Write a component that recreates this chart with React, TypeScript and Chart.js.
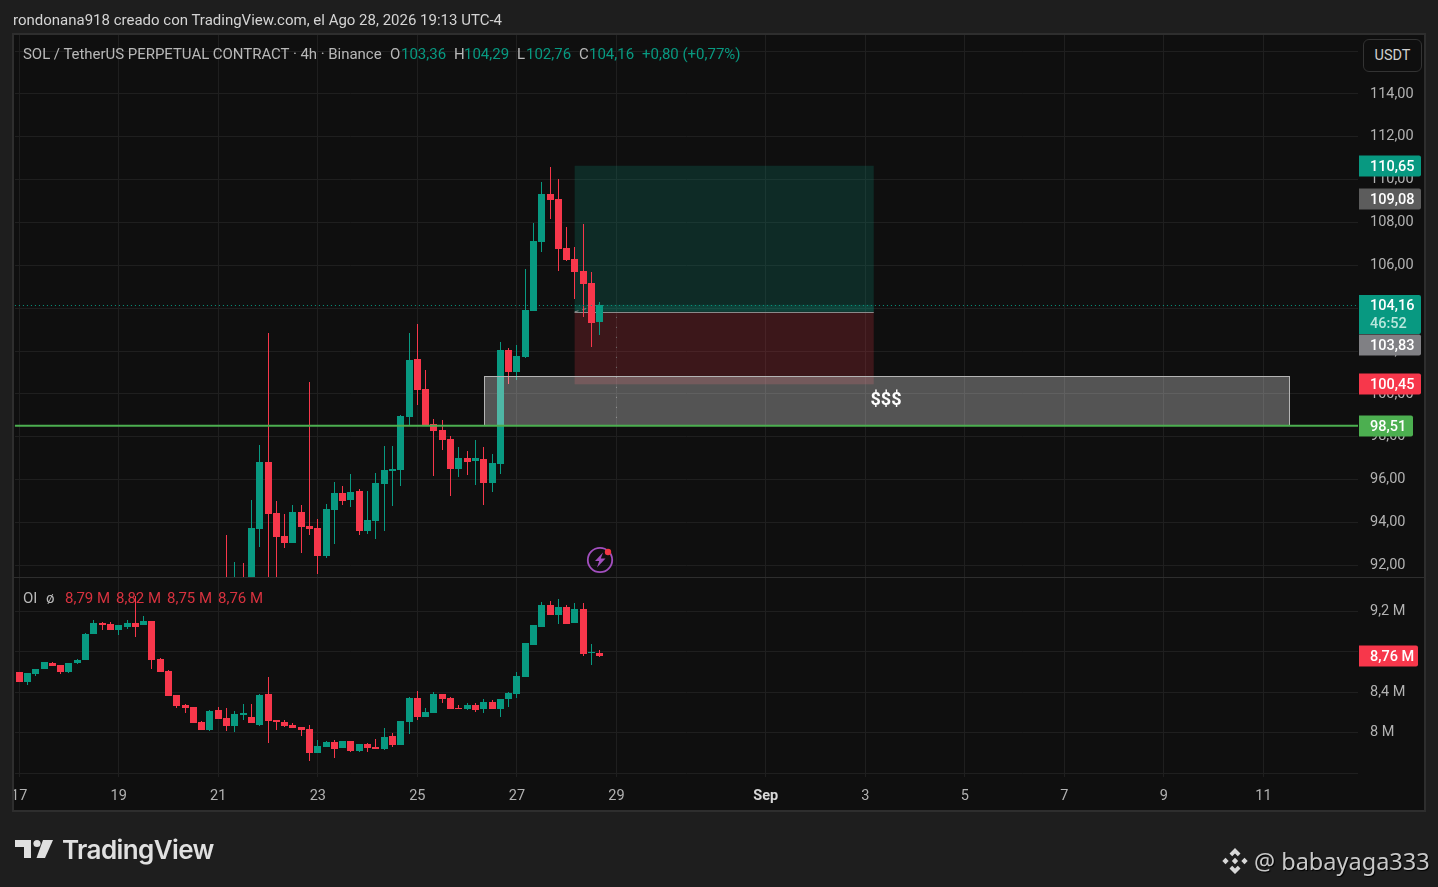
import React, { useEffect, useRef } from "react";
import { Chart, registerables } from "chart.js";

Chart.register(...registerables);

const FIRST_DAY = 17;
const BARS_PER_DAY = 6;

// Price candles, 4h, starting at candle 25 (earlier ones sit below the visible pane)
const PRICE_FIRST_INDEX = 25;
const priceOpen = [91.2, 91.0, 91.3, 91.0, 93.69, 96.82, 94.44, 93.37, 93.04, 94.49, 93.83, 93.74, 92.43, 94.58, 95.37, 95.05, 95.47, 93.6, 94.07, 95.79, 96.4, 96.45, 98.92, 101.63, 100.23, 98.59, 98.31, 97.9, 96.49, 97.0, 96.87, 96.96, 95.84, 96.73, 102.05, 101.02, 101.72, 103.87, 107.09, 109.33, 109.1, 106.81, 106.3, 105.74, 105.18, 103.36];
const priceHigh = [93.41, 92.15, 92.1, 95.05, 97.61, 102.84, 95.0, 94.39, 94.81, 94.81, 100.55, 94.16, 94.86, 95.89, 95.7, 96.26, 95.56, 95.47, 96.31, 97.57, 97.57, 99.01, 102.84, 103.26, 101.12, 98.83, 98.78, 98.03, 97.52, 97.33, 97.85, 97.52, 97.19, 102.42, 102.14, 102.28, 105.83, 107.98, 109.89, 110.59, 110.03, 107.79, 106.86, 107.93, 105.69, 104.29];
const priceLow = [90.8, 90.7, 90.9, 90.8, 92.85, 91.2, 91.2, 92.8, 93.04, 92.57, 93.41, 91.59, 92.34, 92.99, 94.81, 94.72, 93.41, 93.46, 93.23, 93.6, 94.77, 95.7, 98.55, 99.48, 98.5, 96.17, 97.38, 95.23, 96.12, 96.21, 95.75, 94.81, 95.42, 96.26, 100.46, 100.65, 101.67, 103.87, 106.62, 108.17, 105.74, 106.2, 104.43, 103.59, 102.19, 102.76];
const priceClose = [91.0, 91.2, 91.1, 93.74, 96.82, 94.39, 93.32, 93.04, 94.49, 93.78, 93.69, 92.43, 94.63, 95.37, 95.0, 95.42, 93.6, 94.11, 95.84, 96.45, 96.49, 98.97, 101.58, 100.18, 98.52, 98.27, 97.85, 96.49, 97.0, 96.82, 97.0, 95.84, 96.77, 102.05, 101.02, 101.77, 103.92, 107.14, 109.33, 109.05, 106.76, 106.25, 105.69, 105.13, 103.31, 104.16];

// Open interest candles, in millions
const oiOpen = [8.6, 8.5, 8.58, 8.63, 8.69, 8.67, 8.6, 8.69, 8.72, 8.98, 9.08, 9.07, 9.02, 9.05, 9.08, 9.06, 9.1, 8.73, 8.61, 8.37, 8.27, 8.25, 8.1, 8.03, 8.22, 8.14, 8.07, 8.17, 8.15, 8.08, 8.38, 8.12, 8.1, 8.08, 8.06, 8.04, 7.8, 7.86, 7.91, 7.85, 7.92, 7.82, 7.89, 7.86, 7.84, 7.97, 7.88, 8.1, 8.34, 8.15, 8.19, 8.38, 8.34, 8.24, 8.23, 8.27, 8.23, 8.3, 8.23, 8.33, 8.38, 8.55, 8.87, 9.05, 9.26, 9.16, 9.24, 9.08, 9.22, 8.79, 8.79];
const oiHigh = [8.6, 8.59, 8.63, 8.7, 8.7, 8.67, 8.69, 8.73, 8.99, 9.11, 9.09, 9.09, 9.06, 9.11, 9.35, 9.15, 9.1, 8.74, 8.62, 8.37, 8.28, 8.25, 8.11, 8.22, 8.25, 8.24, 8.21, 8.28, 8.28, 8.38, 8.55, 8.12, 8.12, 8.09, 8.06, 8.08, 7.93, 7.92, 7.93, 7.92, 7.92, 7.89, 7.9, 7.94, 8.05, 8.0, 8.11, 8.35, 8.41, 8.24, 8.4, 8.38, 8.35, 8.27, 8.29, 8.29, 8.33, 8.32, 8.33, 8.4, 8.6, 8.89, 9.06, 9.29, 9.3, 9.32, 9.26, 9.28, 9.28, 8.88, 8.82];
const oiLow = [8.5, 8.47, 8.56, 8.63, 8.66, 8.58, 8.59, 8.68, 8.72, 8.98, 9.02, 9.02, 8.97, 9.03, 8.95, 9.06, 8.63, 8.6, 8.36, 8.24, 8.19, 8.09, 8.03, 8.02, 8.13, 8.02, 8.01, 8.12, 8.09, 8.07, 7.9, 8.03, 8.06, 8.05, 7.97, 7.72, 7.8, 7.86, 7.75, 7.85, 7.81, 7.81, 7.81, 7.84, 7.83, 7.86, 7.88, 7.99, 8.12, 8.15, 8.19, 8.29, 8.23, 8.23, 8.22, 8.2, 8.19, 8.23, 8.15, 8.25, 8.34, 8.55, 8.87, 9.05, 9.16, 9.07, 9.07, 9.08, 8.76, 8.67, 8.75];
const oiClose = [8.5, 8.59, 8.63, 8.7, 8.66, 8.6, 8.69, 8.72, 8.98, 9.08, 9.06, 9.02, 9.06, 9.08, 9.05, 9.1, 8.72, 8.6, 8.36, 8.26, 8.24, 8.09, 8.03, 8.21, 8.13, 8.07, 8.18, 8.19, 8.09, 8.37, 8.11, 8.1, 8.07, 8.05, 8.03, 7.8, 7.87, 7.91, 7.84, 7.92, 7.82, 7.89, 7.85, 7.84, 7.96, 7.88, 8.11, 8.34, 8.15, 8.2, 8.38, 8.33, 8.23, 8.23, 8.27, 8.22, 8.3, 8.23, 8.33, 8.39, 8.56, 8.89, 9.06, 9.26, 9.16, 9.24, 9.07, 9.22, 8.78, 8.8, 8.76];

// Axes
const xTickDays = [17, 19, 21, 23, 25, 27, 29, 32, 34, 36, 38, 40, 42];
const xTickLabels = ["17", "19", "21", "23", "25", "27", "29", "Sep", "3", "5", "7", "9", "11"];
const priceTicks = [92, 94, 96, 98, 100, 102, 104, 106, 108, 110, 112, 114, 116];
const oiTicks = [7.6, 8, 8.4, 8.8, 9.2];
const oiTicksWithoutLabel = [7.6, 8.8];

// Drawn objects
const positionDays = [28.16, 34.17];
const positionLevels = [110.65, 103.83, 100.45];
const zoneDays = [26.34, 42.52];
const zoneLevels = [100.84, 98.55];
const supportLevel = 98.51;
const lastPrice = 104.16;
const lastCandleDay = 28.667;
const markerDay = 29;

// Price scale tags
const priceTagValues = [110.65, 109.08, 100.45, 98.51];
const priceTagTexts = ["110,65", "109,08", "100,45", "98,51"];

const UP = "#089981";
const DOWN = "#f7374b";
const GRID = "#1f1f1f";
const PANEL = "#0f0f0f";
const OUTER = "#1e1e1e";
const FRAME = "#2e2e2e";
const TICK_COLOR = "#b2b2b2";
const AXIS_FONT = "Roboto";

const dayOf = (i: number) => FIRST_DAY + i / BARS_PER_DAY;
const colorsOf = (o: number[], c: number[]) => o.map((v, i) => (c[i] >= v ? UP : DOWN));

const overlayPlugin = {
  id: "tvOverlay",
  beforeDraw(chart: any) {
    const { ctx, width, height } = chart;
    ctx.save();
    ctx.fillStyle = OUTER;
    ctx.fillRect(0, 0, width, height);
    ctx.fillStyle = PANEL;
    ctx.fillRect(13, 34, 1412, 777);
    ctx.restore();
  },
  afterDatasetsUpdate(chart: any) {
    // TradingView snaps candles to whole pixels
    chart.getSortedVisibleDatasetMetas().forEach((meta: any) => {
      meta.data.forEach((el: any) => {
        el.x = Math.floor(el.x) + 0.5;
        el.y = Math.round(el.y);
        el.base = Math.round(el.base);
      });
    });
  },
  beforeDatasetsDraw(chart: any) {
    const { ctx, scales } = chart;
    const x0 = scales.x.getPixelForValue(positionDays[0]);
    const x1 = scales.x.getPixelForValue(positionDays[1]);
    const [top, entry, stop] = positionLevels.map((v) => scales.y.getPixelForValue(v));
    const last = scales.y.getPixelForValue(lastPrice);
    ctx.save();
    ctx.fillStyle = "rgba(8,153,129,0.2)";
    ctx.fillRect(x0, top, x1 - x0, entry - top);
    ctx.fillStyle = "rgba(8,153,129,0.2)";
    ctx.fillRect(x0, last, x1 - x0, entry - last);
    ctx.fillStyle = "rgba(242,54,69,0.2)";
    ctx.fillRect(x0, entry, x1 - x0, stop - entry);
    ctx.fillStyle = "#8a8a8a";
    ctx.fillRect(x0, Math.round(entry), x1 - x0, 1);

    // Entry-to-last-price connector and the faint marker column
    ctx.strokeStyle = "#8a8a8a";
    ctx.lineWidth = 1;
    ctx.setLineDash([4, 4]);
    ctx.beginPath();
    ctx.moveTo(x0, entry);
    ctx.lineTo(scales.x.getPixelForValue(lastCandleDay), last);
    ctx.stroke();
    const mx = Math.round(scales.x.getPixelForValue(markerDay)) + 0.5;
    ctx.strokeStyle = "#6e6e6e";
    ctx.setLineDash([1, 9]);
    ctx.beginPath();
    ctx.moveTo(mx, entry + 5);
    ctx.lineTo(mx, scales.y.getPixelForValue(zoneLevels[1]));
    ctx.stroke();
    ctx.restore();
  },
  afterDatasetsDraw(chart: any) {
    const { ctx, scales, chartArea } = chart;
    const y = scales.y;
    ctx.save();

    // Last price line
    ctx.strokeStyle = UP;
    ctx.lineWidth = 1;
    ctx.setLineDash([1, 3]);
    const lp = Math.round(y.getPixelForValue(lastPrice)) + 0.5;
    ctx.beginPath();
    ctx.moveTo(chartArea.left, lp);
    ctx.lineTo(chartArea.right, lp);
    ctx.stroke();
    ctx.setLineDash([]);

    // Zone
    const zx0 = Math.round(scales.x.getPixelForValue(zoneDays[0])) + 0.5;
    const zx1 = Math.round(scales.x.getPixelForValue(zoneDays[1])) + 0.5;
    const zt = Math.round(y.getPixelForValue(zoneLevels[0])) + 0.5;
    const zb = Math.round(y.getPixelForValue(zoneLevels[1])) + 0.5;
    ctx.fillStyle = "rgba(255,255,255,0.29)";
    ctx.fillRect(zx0, zt, zx1 - zx0, zb - zt);
    ctx.strokeStyle = "#b4b4b4";
    ctx.strokeRect(zx0, zt, zx1 - zx0, zb - zt);
    ctx.fillStyle = "#ffffff";
    ctx.font = `bold 18px ${AXIS_FONT}`;
    ctx.textAlign = "center";
    ctx.textBaseline = "middle";
    ctx.fillText("$$$", (zx0 + zx1) / 2 - 1, (zt + zb) / 2 - 1);

    // Support line
    const sl = y.getPixelForValue(supportLevel);
    ctx.strokeStyle = "#4caf50";
    ctx.lineWidth = 2;
    ctx.beginPath();
    ctx.moveTo(chartArea.left, sl);
    ctx.lineTo(chartArea.right, sl);
    ctx.stroke();
    ctx.restore();
  },
  afterDraw(chart: any) {
    const { ctx, scales, height } = chart;
    const y = scales.y;
    const y2 = scales.y2;
    ctx.save();

    // Clip the first tick label at the panel edge and draw the frame
    ctx.fillStyle = OUTER;
    ctx.fillRect(0, 760, 13, height - 760);
    ctx.fillStyle = FRAME;
    ctx.fillRect(12, 33, 2, 779);
    ctx.fillRect(1424, 33, 2, 779);
    ctx.fillRect(12, 33, 1414, 2);
    ctx.fillRect(12, 810, 1414, 2);
    ctx.fillRect(14, 577, 1410, 1);

    const tag = (value: number, color: string, text: string, w = 62) => {
      const c = Math.round(value);
      ctx.fillStyle = color;
      ctx.beginPath();
      ctx.roundRect(1359, c - 10.5, w, 21, [0, 2, 2, 0]);
      ctx.fill();
      ctx.fillStyle = "#ffffff";
      ctx.font = `500 14.5px ${AXIS_FONT}`;
      ctx.textAlign = "left";
      ctx.textBaseline = "middle";
      ctx.fillText(text, 1370, c + 1.5);
    };
    const tagColors = [UP, "#5c5c5c", DOWN, "#4caf50"];
    priceTagValues.forEach((v, i) => {
      tag(y.getPixelForValue(v), tagColors[i], priceTagTexts[i], i === 3 ? 54 : 62);
    });

    // Last price block with its countdown, the entry tag stacked below it
    const lp = Math.round(y.getPixelForValue(lastPrice));
    ctx.fillStyle = UP;
    ctx.beginPath();
    ctx.roundRect(1359, lp - 10, 62, 39, [0, 2, 2, 0]);
    ctx.fill();
    ctx.fillStyle = "#ffffff";
    ctx.font = `500 14.5px ${AXIS_FONT}`;
    ctx.textBaseline = "middle";
    ctx.textAlign = "left";
    ctx.fillText("104,16", 1370, lp + 1.5);
    ctx.fillStyle = "#b8e6dc";
    ctx.fillText("46:52", 1370, lp + 19);
    tag(lp + 39.5, "#808084", "103,83");

    // OI last value
    tag(y2.getPixelForValue(8.76), DOWN, "8,76 M", 59);
    ctx.restore();
  },
};

const root: React.CSSProperties = {
  position: "fixed",
  left: 0,
  top: 0,
  width: 1438,
  height: 887,
  background: OUTER,
  overflow: "hidden",
  fontFamily: AXIS_FONT,
};
const abs = (left: number, top: number, extra: React.CSSProperties = {}): React.CSSProperties => ({
  position: "absolute",
  left,
  top,
  whiteSpace: "nowrap",
  pointerEvents: "none",
  ...extra,
});

export default function App() {
  const ref = useRef<HTMLCanvasElement | null>(null);

  useEffect(() => {
    const priceDays = priceOpen.map((_, i) => dayOf(i + PRICE_FIRST_INDEX));
    const oiDays = oiOpen.map((_, i) => dayOf(i));
    const priceColors = colorsOf(priceOpen, priceClose);
    const oiColors = colorsOf(oiOpen, oiClose);
    const common = { type: "bar" as const, grouped: false, borderWidth: 0, inflateAmount: 0, minBarLength: 1, clip: 0 };

    const chart = new Chart(ref.current as HTMLCanvasElement, {
      type: "bar",
      data: {
        datasets: [
          {
            ...common,
            label: "Price wick",
            yAxisID: "y",
            barThickness: 1,
            data: priceDays.map((x, i) => ({ x, y: [priceLow[i], priceHigh[i]] })),
            backgroundColor: priceColors,
          },
          {
            ...common,
            label: "Price body",
            yAxisID: "y",
            barThickness: 7,
            data: priceDays.map((x, i) => ({ x, y: [priceOpen[i], priceClose[i]] })),
            backgroundColor: priceColors,
          },
          {
            ...common,
            label: "OI wick",
            yAxisID: "y2",
            barThickness: 1,
            data: oiDays.map((x, i) => ({ x, y: [oiLow[i], oiHigh[i]] })),
            backgroundColor: oiColors,
          },
          {
            ...common,
            label: "OI body",
            yAxisID: "y2",
            barThickness: 7,
            data: oiDays.map((x, i) => ({ x, y: [oiOpen[i], oiClose[i]] })),
            backgroundColor: oiColors,
          },
        ] as any,
      },
      options: {
        responsive: false,
        animation: false,
        devicePixelRatio: 1,
        layout: { padding: { left: 14, top: 35, right: 0, bottom: 0 } },
        plugins: { legend: { display: false }, tooltip: { enabled: false } },
        scales: {
          x: {
            type: "linear",
            position: "bottom",
            offset: false,
            min: 16.914,
            max: 43.9,
            afterBuildTicks: (s: any) => {
              s.ticks = xTickDays.map((value) => ({ value }));
            },
            afterFit: (s: any) => {
              s.height = 114;
            },
            grid: { color: GRID, tickColor: GRID, tickLength: 4, offset: false },
            border: { display: false },
            ticks: {
              autoSkip: false,
              maxRotation: 0,
              padding: 11,
              color: (c: any) => (c.tick?.value === 32 ? "#d8d8d8" : TICK_COLOR),
              font: (c: any) => ({ family: AXIS_FONT, size: 14.5, weight: c.tick?.value === 32 ? "bold" : "normal" }),
              callback: (v: any) => xTickLabels[xTickDays.indexOf(Number(v))] ?? "",
            },
          },
          y: {
            type: "linear",
            position: "right",
            stack: "panes",
            stackWeight: 542.5,
            weight: 0,
            min: 91.43,
            max: 116.754,
            afterBuildTicks: (s: any) => {
              s.ticks = priceTicks.map((value) => ({ value }));
            },
            afterFit: (s: any) => {
              s.width = 80;
            },
            grid: { color: GRID, drawTicks: false },
            border: { display: false },
            ticks: {
              autoSkip: false,
              padding: 12,
              color: TICK_COLOR,
              font: { family: AXIS_FONT, size: 14.5 },
              callback: (v: any) => Number(v).toFixed(2).replace(".", ","),
            },
          },
          y2: {
            type: "linear",
            position: "right",
            stack: "panes",
            stackWeight: 195.5,
            weight: 1,
            min: 7.6,
            max: 9.535,
            afterBuildTicks: (s: any) => {
              s.ticks = oiTicks.map((value) => ({ value }));
            },
            afterFit: (s: any) => {
              s.width = 80;
            },
            grid: { color: GRID, drawTicks: false },
            border: { display: false },
            ticks: {
              autoSkip: false,
              padding: 12,
              color: TICK_COLOR,
              font: { family: AXIS_FONT, size: 14.5 },
              callback: (v: any) => (oiTicksWithoutLabel.includes(Number(v)) ? "" : `${String(v).replace(".", ",")} M`),
            },
          },
        },
      } as any,
      plugins: [overlayPlugin],
    });
    return () => chart.destroy();
  }, []);

  const gray = { color: "#b8b8b8", fontSize: 15, lineHeight: "18px" };
  const green = { color: UP, fontSize: 15, lineHeight: "18px" };
  const oiRed = { color: "#d8323f", fontSize: 15, lineHeight: "18px" };

  return (
    <div style={root}>
      <canvas ref={ref} width={1438} height={887} style={{ display: "block", position: "absolute", left: 0, top: 0 }} />

      <div style={abs(13, 11, { color: "#d4d4d4", fontSize: 15, lineHeight: "18px" })}>
        rondonana918 creado con TradingView.com, el Ago 28, 2026 19:13 UTC-4
      </div>

      <div style={abs(23, 45, { ...gray, letterSpacing: -0.04 })}>SOL / TetherUS PERPETUAL CONTRACT · 4h · Binance</div>
      <div style={abs(390, 45, gray)}>O</div>
      <div style={abs(401, 45, green)}>103,36</div>
      <div style={abs(454, 45, gray)}>H</div>
      <div style={abs(464, 45, green)}>104,29</div>
      <div style={abs(517, 45, gray)}>L</div>
      <div style={abs(526, 45, green)}>102,76</div>
      <div style={abs(579, 45, gray)}>C</div>
      <div style={abs(589, 45, green)}>104,16</div>
      <div style={abs(642, 45, green)}>+0,80 (+0,77%)</div>

      <div style={abs(23, 589, gray)}>OI</div>
      <div style={abs(46, 589, gray)}>ø</div>
      <div style={abs(65, 589, oiRed)}>8,79 M</div>
      <div style={abs(116, 589, oiRed)}>8,82 M</div>
      <div style={abs(167, 589, oiRed)}>8,75 M</div>
      <div style={abs(218, 589, oiRed)}>8,76 M</div>

      <div
        style={abs(1363, 39, {
          width: 57,
          height: 31,
          lineHeight: "31px",
          textAlign: "center",
          background: PANEL,
          border: "1px solid #333",
          borderRadius: 6,
          color: "#d0d0d0",
          fontSize: 14.5,
        })}
      >
        USDT
      </div>

      <svg style={abs(586, 546)} width={32} height={28} viewBox="0 0 32 28">
        <circle cx={14} cy={14} r={12.2} fill="none" stroke="#a24fbe" strokeWidth={1.8} />
        <path d="M17 6.5 L9 15 H13.2 L11 21.5 L19.5 12.5 H14.8 Z" fill="#a24fbe" />
        <circle cx={22} cy={6} r={3.2} fill="#f23645" />
      </svg>

      <svg style={abs(15, 839)} width={40} height={20} viewBox="0 0 40 20">
        <path d="M0 1 H16 V19 H9 V8 H0 Z" fill="#e0e0e0" />
        <circle cx={22} cy={4.5} r={3.6} fill="#e0e0e0" />
        <path d="M28 1 H38 L30 19 H21.5 Z" fill="#e0e0e0" />
      </svg>
      <div style={abs(62, 834, { color: "#e0e0e0", fontSize: 26, fontWeight: 600, fontFamily: "Inter", lineHeight: "32px", letterSpacing: -0.6 })}>
        TradingView
      </div>

      <svg style={abs(1221, 847)} width={28} height={28} viewBox="0 0 28 28">
        <g fill="#d8d8d8">
          <path d="M14 1 L19.5 6.5 L16.8 9.2 L14 6.4 L11.2 9.2 L8.5 6.5 Z" />
          <path d="M14 27 L19.5 21.5 L16.8 18.8 L14 21.6 L11.2 18.8 L8.5 21.5 Z" />
          <path d="M14 10.8 L17.2 14 L14 17.2 L10.8 14 Z" />
          <path d="M4.5 10.8 L7.7 14 L4.5 17.2 L1.3 14 Z" />
          <path d="M23.5 10.8 L26.7 14 L23.5 17.2 L20.3 14 Z" />
        </g>
      </svg>
      <div style={abs(1254, 844, { color: "#c8c8c8", fontSize: 23.5, fontFamily: "Noto Sans", lineHeight: "34px", textShadow: "1px 1px 1px #000" })}>
        @ babayaga333
      </div>
    </div>
  );
}
